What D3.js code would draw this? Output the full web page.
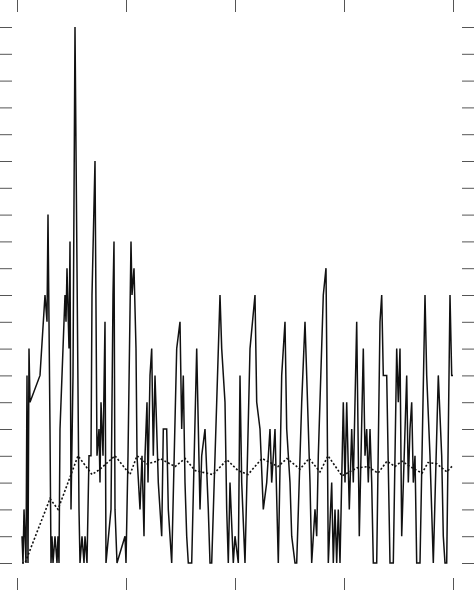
<!DOCTYPE html>
<html><head><meta charset="utf-8">
<script src="https://cdn.jsdelivr.net/npm/d3@7"></script>
<style>body{margin:0;background:#fff}</style></head>
<body><svg id="c" width="474" height="590"></svg>
<script>
// time values (arbitrary units) and counts
const solidT = [22,23,24,26,27,28,29,30,40,45,47,48,50,51,52,53,55,57,58,59,60,62,65,66,67,69,70,71,73,75,79,80,82,84,85,87,89,91,92,95,97,99,100,101,103,105,106,111,113,114,115,117,125,126,128,131,132,134,136,137,140,142,144,145,147,148,
 150,151.7,153.3,155,156.7,158.3,161.7,163.3,166.7,168.3,171.7,176.7,180,181.7,183.3,185,186.7,188.3,191.7,196.7,200,201.7,205,208.3,210,211.7,216.7,220,221.7,225,226.7,228.3,230,233.3,235,238.3,240,241.7,245,250,255,256.7,260,263.3,266.7,270,271.7,275,278.3,281.7,285,286.7,290,291.7,295,296.7,301.7,305,306.7,
 310,311.7,315,316.7,318.3,323.3,326,326.7,328.3,331.7,333.3,335,336.7,338.3,340,343.3,345,346.7,349.3,351.7,353.3,356.7,359.3,363.3,365,366.7,368.3,370,371.7,373.3,376.7,380,381.7,383.3,386.7,390,393.3,396.7,398.3,400,401.7,406.7,408.3,410,411.7,413.3,415,416.7,420,425,426.7,430,433.3,438.3,441.7,443.3,445,446.7,450,451.7,453];
const solidV = [1,0,2,0,7,0,8,6,7,10,9,13,5,0,1,0,1,0,1,0,5,7,10,9,11,8,12,2,7,20,2,0,1,0,1,0,4,4,10,15,4,5,3,6,4,9,0,2,10,12,2,0,1,0,4,12,10,11,8,4,2,4,1,4,6,3,
 7,8,4,7,5,3,1,5,5,2,0,8,9,5,7,3,1,0,0,8,2,4,5,2,0,0,6,10,8,6,2,0,3,0,1,0,7,3,0,8,10,6,5,2,3,5,3,5,0,7,9,5,3,1,0,0,6,9,7,
 3,0,2,1,4,10,11,8,0,3,0,2,0,2,0,6,3,6,2,5,3,9,1,8,4,5,3,5,3,0,0,9,10,7,7,0,0,8,6,8,1,7,3,5,6,3,4,0,0,10,7,4,0,7,4,1,0,0,10,7,7];
const dotT = [22,25,50,58,78,92,100,115,130,137,147,157,160,175,185,195,213,227,238,248,262,278,287,300,309,320,328,342,357,368,378,387,395,402,410,422,428,437,447,453];
const dotV = [0,0,2.4,2.0,4.0,3.3,3.5,4.0,3.3,4.0,3.7,3.8,3.9,3.6,3.9,3.45,3.3,3.85,3.45,3.3,3.9,3.6,3.9,3.5,3.9,3.4,4.0,3.25,3.55,3.6,3.35,3.8,3.6,3.8,3.6,3.35,3.75,3.7,3.4,3.65];
const xTicks = [17,126,235,344,453];
const yTicks = d3.range(0,21);

const svg = d3.select("#c");
const x = d3.scaleLinear().domain([17,453]).range([17,453]);
const y = d3.scaleLinear().domain([0,20]).range([563,27]);
const tickStyle = g => { g.select(".domain").remove(); g.selectAll("text").remove(); g.selectAll("line").attr("stroke","#555"); };
svg.append("g").call(d3.axisBottom(x).tickValues(xTicks).tickSize(12)).call(tickStyle);
svg.append("g").attr("transform","translate(0,578)").call(d3.axisBottom(x).tickValues(xTicks).tickSize(12)).call(tickStyle);
svg.append("g").attr("transform","translate(12,0)").call(d3.axisLeft(y).tickValues(yTicks).tickSize(12)).call(tickStyle);
svg.append("g").attr("transform","translate(462,0)").call(d3.axisRight(y).tickValues(yTicks).tickSize(12)).call(tickStyle);

const line = d3.line().x(d=>x(d[0])).y(d=>y(d[1]));
svg.append("path").datum(solidT.map((t,i)=>[t,solidV[i]])).attr("d",line)
  .attr("fill","none").attr("stroke","#111").attr("stroke-width",1.5);
svg.append("path").datum(dotT.map((t,i)=>[t,dotV[i]])).attr("d",line)
  .attr("fill","none").attr("stroke","#111").attr("stroke-width",1.6).attr("stroke-dasharray","2,2");
</script></body></html>
